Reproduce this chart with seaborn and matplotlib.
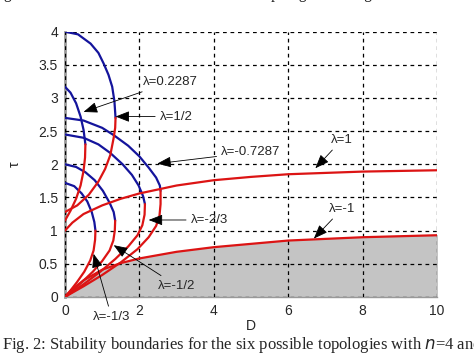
import matplotlib
matplotlib.use("Agg")
import matplotlib.pyplot as plt
import seaborn as sns
import pandas as pd

# curves: (D, tau) pairs, blue = upper arc, red = lower branch
BLUE_HALF_D = [0.0, 0.35, 0.69, 0.9, 1.04, 1.17, 1.27, 1.33, 1.36]
BLUE_HALF_T = [4.0, 3.96, 3.82, 3.68, 3.52, 3.35, 3.17, 2.95, 2.70]
RED_HALF_D = [1.36, 1.35, 1.31, 1.22, 1.08, 0.9, 0.64, 0.33, 0.0]
RED_HALF_T = [2.70, 2.55, 2.40, 2.14, 1.93, 1.74, 1.54, 1.38, 1.28]

BLUE_P2287_D = [0.0, 0.15, 0.3, 0.42, 0.5, 0.55]
BLUE_P2287_T = [3.17, 3.08, 2.92, 2.72, 2.52, 2.30]
RED_P2287_D = [0.55, 0.54, 0.5, 0.42, 0.3, 0.15, 0.0]
RED_P2287_T = [2.30, 2.10, 1.90, 1.68, 1.48, 1.30, 1.15]

BLUE_M7287_D = [0.0, 0.5, 1.0, 1.31, 1.7, 2.0, 2.25, 2.45, 2.55, 2.57]
BLUE_M7287_T = [2.70, 2.66, 2.55, 2.44, 2.28, 2.12, 1.95, 1.80, 1.68, 1.60]
RED_M7287_D = [2.57, 2.57, 2.54, 2.45, 2.25, 1.95, 1.5, 1.0, 0.5, 0.0]
RED_M7287_T = [1.60, 1.40, 1.22, 1.07, 0.90, 0.72, 0.52, 0.33, 0.16, 0.0]

BLUE_M23_D = [0.0, 0.5, 0.9, 1.22, 1.55, 1.8, 1.98, 2.1, 2.15]
BLUE_M23_T = [2.45, 2.40, 2.30, 2.17, 2.00, 1.84, 1.68, 1.52, 1.40]
RED_M23_D = [2.15, 2.14, 2.08, 1.95, 1.7, 1.35, 0.95, 0.5, 0.0]
RED_M23_T = [1.40, 1.24, 1.08, 0.93, 0.76, 0.57, 0.38, 0.19, 0.0]

BLUE_M12_D = [0.0, 0.3, 0.55, 0.8, 1.02, 1.2, 1.31, 1.35]
BLUE_M12_T = [2.0, 1.96, 1.88, 1.76, 1.60, 1.42, 1.28, 1.15]
RED_M12_D = [1.35, 1.34, 1.3, 1.2, 1.0, 0.75, 0.45, 0.2, 0.0]
RED_M12_T = [1.15, 1.00, 0.85, 0.70, 0.54, 0.38, 0.22, 0.09, 0.0]

BLUE_M13_D = [0.0, 0.25, 0.45, 0.6, 0.72, 0.79, 0.82]
BLUE_M13_T = [1.72, 1.67, 1.56, 1.44, 1.28, 1.13, 1.00]
RED_M13_D = [0.82, 0.81, 0.77, 0.68, 0.52, 0.32, 0.14, 0.0]
RED_M13_T = [1.00, 0.86, 0.70, 0.55, 0.38, 0.22, 0.09, 0.0]

RED_P1_D = [0.0, 0.2, 0.5, 1.0, 1.5, 2.0, 3.0, 4.0, 5.0, 6.0, 8.0, 10.0]
RED_P1_T = [1.0, 1.12, 1.25, 1.38, 1.48, 1.56, 1.68, 1.76, 1.81, 1.85, 1.89, 1.91]
RED_M1_D = [0.0, 0.2, 0.5, 1.0, 1.5, 2.0, 3.0, 4.0, 5.0, 6.0, 8.0, 10.0]
RED_M1_T = [0.0, 0.12, 0.25, 0.41, 0.51, 0.58, 0.68, 0.75, 0.80, 0.85, 0.90, 0.93]

BLUE_CURVES = [(BLUE_HALF_D, BLUE_HALF_T), (BLUE_P2287_D, BLUE_P2287_T), (BLUE_M7287_D, BLUE_M7287_T),
               (BLUE_M23_D, BLUE_M23_T), (BLUE_M12_D, BLUE_M12_T), (BLUE_M13_D, BLUE_M13_T)]
RED_CURVES = [(RED_HALF_D, RED_HALF_T), (RED_P2287_D, RED_P2287_T), (RED_M7287_D, RED_M7287_T),
              (RED_M23_D, RED_M23_T), (RED_M12_D, RED_M12_T), (RED_M13_D, RED_M13_T),
              (RED_P1_D, RED_P1_T), (RED_M1_D, RED_M1_T)]

# label text, text anchor (D, tau), arrow tip (D, tau)
LABELS = [
    ("λ=0.2287", (2.1, 3.24), (0.5, 2.79)),
    ("λ=1/2", (2.55, 2.72), (1.36, 2.72)),
    ("λ=-0.7287", (4.2, 2.18), (2.48, 2.01)),
    ("λ=1", (7.15, 2.37), (6.73, 1.94)),
    ("λ=-1", (7.1, 1.33), (6.69, 0.88)),
    ("λ=-2/3", (3.38, 1.16), (2.25, 1.16)),
    ("λ=-1/2", (2.5, 0.17), (1.31, 0.78)),
    ("λ=-1/3", (0.75, -0.3), (0.77, 0.65)),
]

BLUE = "#14149c"
RED = "#dc1414"

sns.set_style("white")
plt.rcParams["font.family"] = ["Liberation Sans", "DejaVu Sans"]

fig = plt.figure(figsize=(4.74, 3.56), dpi=100)
ax = fig.add_axes([0.137, 0.166, 0.785, 0.745])

df_fill = pd.DataFrame({"D": RED_M1_D, "tau": RED_M1_T})
ax.fill_between(df_fill["D"], 0, df_fill["tau"], color="#c4c4c4", zorder=1)

for d, t in BLUE_CURVES:
    sns.lineplot(x=d, y=t, ax=ax, sort=False, estimator=None, color=BLUE, linewidth=1.6, zorder=3)
for d, t in RED_CURVES:
    sns.lineplot(x=d, y=t, ax=ax, sort=False, estimator=None, color=RED, linewidth=1.6, zorder=3)

for text, xy_text, xy_tip in LABELS:
    ax.annotate(text, xy=xy_tip, xytext=xy_text, fontsize=9.5, va="center", ha="left",
                annotation_clip=False, zorder=5,
                arrowprops=dict(arrowstyle="-|>,head_length=0.9,head_width=0.35", color="k",
                                lw=0.6, shrinkA=1, shrinkB=0))

ax.set_xlim(0, 10)
ax.set_ylim(0, 4)
ax.set_xticks(range(0, 11, 2))
ax.set_yticks([0, 0.5, 1, 1.5, 2, 2.5, 3, 3.5, 4])
ax.set_yticklabels(["0", "0.5", "1", "1.5", "2", "2.5", "3", "3.5", "4"])
ax.tick_params(labelsize=10, length=0, pad=5)
ax.grid(True, color="k", linestyle=(0, (3, 3)), linewidth=0.9, zorder=2)
ax.set_axisbelow(False)
for side in ["top", "right"]:
    ax.spines[side].set_visible(False)
ax.spines["left"].set_color("#999999")
ax.spines["left"].set_linewidth(2)
ax.spines["bottom"].set_color("#999999")
ax.spines["bottom"].set_linewidth(1)
ax.set_xlabel("D", fontsize=10, labelpad=1)
ax.set_ylabel("τ", fontsize=10, labelpad=12)

fig.text(0.005, 0.004, "Fig. 2: Stability boundaries for the six possible topologies with $n$=4 and",
         fontsize=12, family="Liberation Serif", ha="left", va="bottom")
fig.text(-0.02, 1.016, "Fig. 1: Possible connected communication topologies for Vigilia.",
         fontsize=11.2, family="Liberation Serif", ha="left", va="center", color="#222222")

fig.savefig("out.png", dpi=100)
